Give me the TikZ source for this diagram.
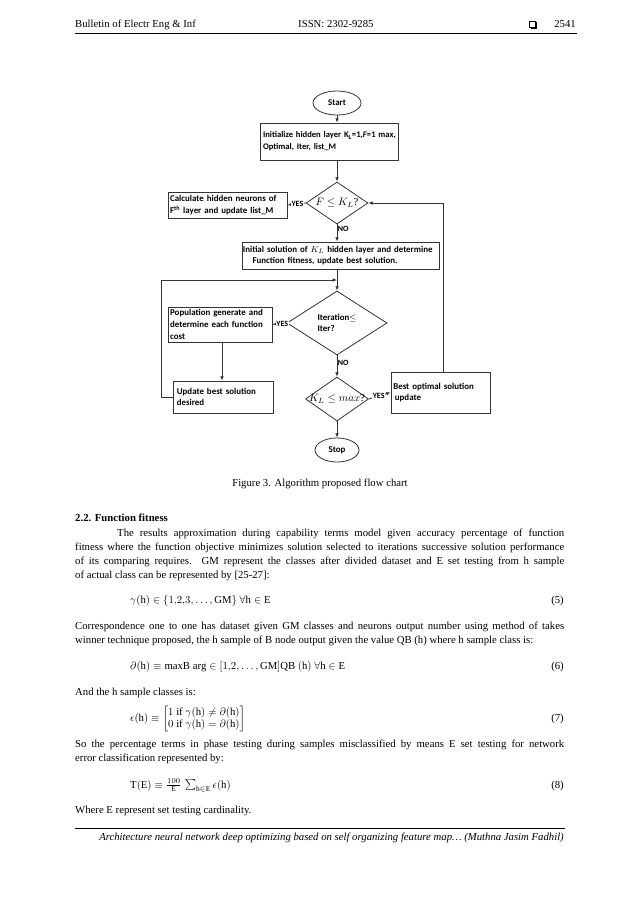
\documentclass[tikz,border=0pt]{standalone}
\usepackage{amsmath}
\usepackage{fontspec}
\setmainfont{Liberation Serif}
\newfontfamily\flowfont{Carlito}
\usetikzlibrary{shapes.geometric,arrows.meta}
\newdimen\pxd \pxd=0.9326pt
\newcommand\flowtext{\flowfont\bfseries\fontsize{8.3}{11}\selectfont}
\newcommand\flowlbl{\flowfont\bfseries\fontsize{7.5}{9}\selectfont}
\newcommand\bodytext{\fontsize{10}{12}\selectfont}
\newcommand\jl[2]{\makebox[#1\pxd][s]{#2}}
\newcommand\rh{\mathrm{h}}
\begin{document}
\begin{tikzpicture}[x=0.9326pt,y=-0.9326pt,
  line/.style={draw=black!80, line width=0.75pt},
  arr/.style={line, -{Latex[length=4pt,width=3.4pt]}},
  fbox/.style={line, rectangle, align=left, font=\flowtext, inner ysep=1pt},
  dia/.style={line, diamond, inner sep=0pt},
  term/.style={line, ellipse, inner sep=0pt, font=\flowtext},
  lbl/.style={font=\flowlbl, inner sep=0.4pt, fill=white},
  txt/.style={anchor=base west, inner sep=0pt, font=\bodytext},
  txtr/.style={anchor=base east, inner sep=0pt, font=\bodytext}]
\useasboundingbox (0,0) rectangle (638,902);

% header
\node[txt] (h1) at (75,28) {Bulletin of Electr Eng \& Inf};
\node[txt] (h2) at (298,28) {ISSN: 2302-9285};
\node[txtr] (h3) at (576,28) {2541};
\draw[line width=0.5pt] (529,21) rectangle (535.5,27.5);
\draw[line width=1.1pt] (530.5,28.3) -- (536.3,28.3) -- (536.3,22.2);
\draw[line width=0.9pt] (75,33) -- (577,33);

% flowchart
\node[term, minimum width=44.8pt, minimum height=22.4pt] (start) at (337,103) {Start};
\node[fbox, minimum width=128.7pt, minimum height=34.5pt, text width=126pt, inner xsep=1.3pt,
  font=\flowfont\bfseries\fontsize{8}{11}\selectfont] (init) at (329,141.5)
  {\hspace*{1.5pt}Initialize hidden layer K\textsubscript{L}=1,\textit{F}=1 max,\\\hspace*{1.5pt}Optimal, Iter, list\_M};
\node[dia, minimum width=57.8pt, minimum height=39.2pt, label={[font=\fontsize{10}{12}\selectfont]center:$F\le K_L$?}] (d1) at (337,203) {};
\node[fbox, minimum width=111pt, minimum height=24.2pt, text width=107pt, inner xsep=2pt] (calc) at (227.5,205)
  {Calculate hidden neurons of\\F\textsuperscript{th} layer and update list\_M};
\node[fbox, minimum width=183.7pt, minimum height=25.2pt, text width=182pt, inner xsep=0.8pt] (sol) at (340.5,255.5)
  {Initial solution of $K_L$ hidden layer and determine\\\hspace*{9pt}Function fitness, update best solution.};
\coordinate (j1) at (337,280);
\node[dia, minimum width=93.3pt, minimum height=59.7pt, label={[font=\flowtext, align=left]center:Iteration$\le$\\Iter?}] (d2) at (337,323) {};
\node[fbox, minimum width=97pt, minimum height=32.6pt, text width=93pt, inner xsep=2pt] (pop) at (220,324.5)
  {Population generate and\\determine each function\\cost};
\node[fbox, minimum width=93.3pt, minimum height=29.8pt, text width=86pt, inner xsep=3.6pt] (upd) at (223,397)
  {Update best solution\\desired};
\node[dia, minimum width=58.8pt, minimum height=41pt, label={[font=\fontsize{10}{12}\selectfont]center:$K_L\le max$?}] (d3) at (337,399) {};
\node[fbox, minimum width=92.3pt, minimum height=38.2pt, text width=88pt, inner xsep=2.2pt] (best) at (440.5,392.5)
  {Best optimal solution\\\hspace*{1.5pt}update};
\node[term, minimum width=41pt, minimum height=22.4pt] (stop) at (337,450) {Stop};
\coordinate (r1) at (443,203);

\draw[arr] (start) -- (start |- init.north);
\draw[arr] (init.south -| d1) -- (d1.north);
\draw[arr] (d1.west) -- (calc.east) node[lbl, pos=0.45] (y1) {YES};
\draw[arr] (d1.south) -- (d1.south |- sol.north) node[lbl, fill=none, pos=0.25, anchor=west] (n1) {NO};
\draw[arr] (sol.south -| d2) -- (d2.north);
\draw[arr] (upd.west) -- ++(-11,0) |- (j1);
\draw[arr] (d2.west) -- (pop.east) node[lbl, pos=0.3] (y2) {YES};
\draw[arr] (pop.south -| 222,0) -- (222,0 |- upd.north);
\draw[arr] (d2.south) -- (d3.north) node[lbl, fill=none, pos=0.35, anchor=west] (n2) {NO};
\draw[arr] (d3.east) -- (best.west) node[lbl, pos=0.45] (y3) {YES};
\draw[arr] (best.north -| r1) -- (r1) -- (d1.east);
\draw[arr] (d3.south) -- (stop.north);

\node[anchor=base, inner sep=0pt, font=\bodytext] (cap) at (320,486) {Figure 3. Algorithm proposed flow chart};

% section
\node[txt] (sec) at (75,521) {\textbf{2.2. Function fitness}};
\node[txt] (p1a) at (117,536) {\jl{447}{The results approximation during capability terms model given accuracy percentage of function}};
\node[txt] (p1b) at (75,550) {\jl{489}{fitness where the function objective minimizes solution selected to iterations successive solution performance}};
\node[txt] (p1c) at (75,564) {\jl{489}{of its comparing requires. GM represent the classes after divided dataset and E set testing from h sample}};
\node[txt] (p1d) at (75,578) {of actual class can be represented by [25-27]:};

\node[txt] (e5) at (130,603) {$\gamma(\rh)\in\{1{,}2{,}3,\ldots,\mathrm{GM}\}\ \forall\rh\in\mathrm{E}$};
\node[txtr] (n5) at (564,603) {(5)};

\node[txt] (p2a) at (75,629) {\jl{489}{Correspondence one to one has dataset given GM classes and neurons output number using method of takes}};
\node[txt] (p2b) at (75,643) {winner technique proposed, the h sample of B node output given the value QB (h) where h sample class is:};

\node[txt] (e6) at (130,669) {$\partial(\rh)\equiv\mathrm{maxB\ arg}\in[1{,}2,\ldots,\mathrm{GM}]\mathrm{QB\ (h)}\ \forall\rh\in\mathrm{E}$};
\node[txtr] (n6) at (564,669) {(6)};

\node[txt] (p3) at (75,695) {And the h sample classes is:};

\node[anchor=west, inner sep=0pt, font=\bodytext] (e7) at (130,719) {\def\arraystretch{0.88}$\epsilon(\rh)\equiv\begin{bmatrix}1\ \mathrm{if}\ \gamma(\rh)\neq\partial(\rh)\\0\ \mathrm{if}\ \gamma(\rh)=\partial(\rh)\end{bmatrix}$};
\node[txtr] (n7) at (564,721) {(7)};

\node[txt] (p4a) at (75,747) {\jl{489}{So the percentage terms in phase testing during samples misclassified by means E set testing for network}};
\node[txt] (p4b) at (75,761) {error classification represented by:};

\node[txt] (e8) at (130,788) {$\mathrm{T(E)}\equiv\tfrac{100}{\mathrm{E}}\,\textstyle\sum\nolimits_{\rh\in\mathrm{E}}\epsilon(\rh)$};
\node[txtr] (n8) at (564,788) {(8)};

\node[txt] (p5) at (75,813) {Where E represent set testing cardinality.};

% footer
\draw[line width=0.9pt] (75,828) -- (565,828);
\node[txtr] (ft) at (564,840) {\textit{Architecture neural network deep optimizing based on self organizing feature map\ldots{} (Muthna Jasim Fadhil)}};
\end{tikzpicture}
\end{document}
